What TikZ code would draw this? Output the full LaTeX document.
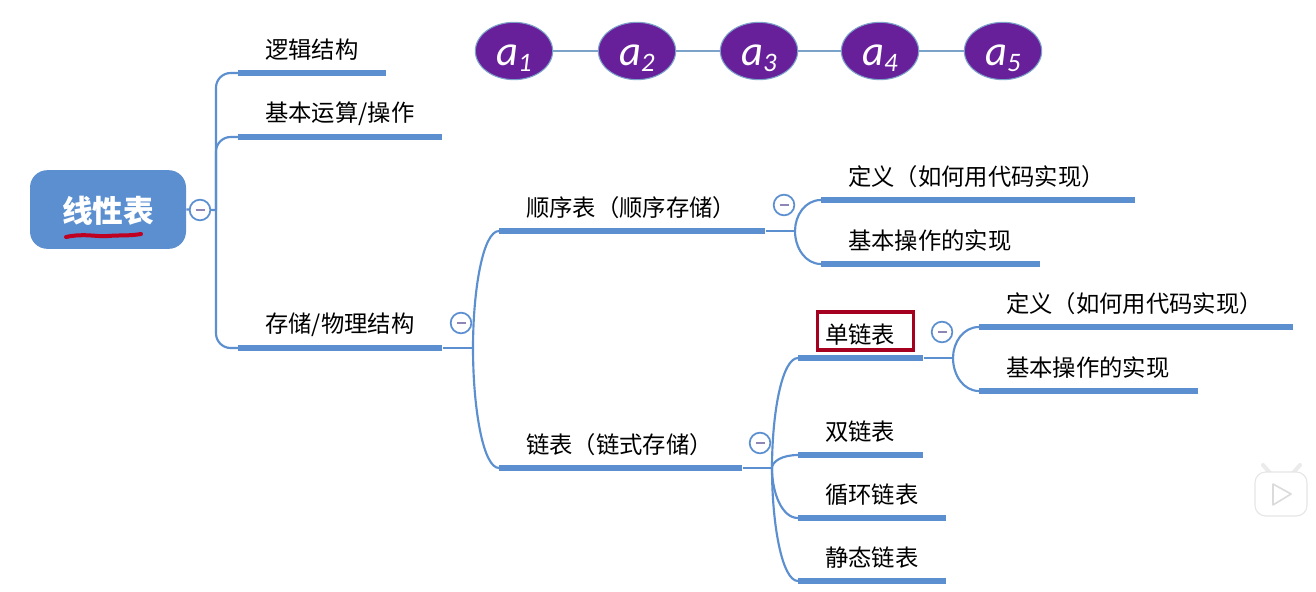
\documentclass[tikz,border=0pt]{standalone}
\usepackage{fontspec}
\setmainfont{Noto Sans CJK SC}
\newfontfamily\latinfont{Carlito}
\usetikzlibrary{shapes.geometric,calc}
\definecolor{mapblue}{HTML}{5B8FD0}
\definecolor{linkblue}{HTML}{7BA3C9}
\definecolor{elfill}{HTML}{68209A}
\definecolor{boxred}{HTML}{A5001F}
\definecolor{inkred}{HTML}{C00020}
\definecolor{minusgrey}{HTML}{8E86B4}
\tikzset{
  bar/.style={fill=mapblue,inner sep=0pt,minimum height=5pt,anchor=west},
  topictext/.style={anchor=west,inner sep=0pt,font=\fontsize{17.5}{17.5}\selectfont,text=black},
  conn/.style={draw=mapblue,line width=1.6pt},
  trunk/.style={conn,rounded corners=11pt},
  collapse/.style={circle,draw=mapblue,line width=1.3pt,fill=white,minimum size=15.5pt,inner sep=0pt},
  minus/.style={draw=minusgrey,line width=1.3pt},
  elem/.style={ellipse,draw=linkblue,line width=0.8pt,fill=elfill,minimum width=58pt,minimum height=43pt,inner sep=0pt,text=white},
  elemlink/.style={draw=linkblue,line width=1.5pt},
}
\newcommand{\topicbar}[5]{% name, x, y, width px, text
  \node[bar,minimum width=#4*0.75pt] (#1) at (#2,#3) {};
  \node[topictext] (#1t) at (#2+27,#3-23) {#5};
}
\newcommand{\branchline}[2]{% junction, bar
  \draw[conn] (#1) .. controls ($(#1)!0.5!(#1 |- #2.west)$) and ($(#2.west)+(-16,0)$) .. (#2.west);
}
\newcommand{\elemlabel}[1]{\raisebox{-10.5pt}[0pt][0pt]{\latinfont\itshape\fontsize{32}{32}\selectfont a\raisebox{-5pt}{\fontsize{20}{20}\selectfont #1}}}
\newcommand{\collapsemark}[3]{% name, x, y
  \node[collapse] (#1) at (#2,#3) {};
  \draw[minus] ($(#1)+(-4.5,0)$) -- ($(#1)+(4.5,0)$);
}
\begin{document}
\begin{tikzpicture}[x=0.75pt,y=-0.75pt]
\useasboundingbox (0,0) rectangle (1316,592);
\fill[white] (0,0) rectangle (1316,592);

\coordinate (j0) at (216,210);
\coordinate (j1) at (473,348);
\coordinate (j2) at (795,231);
\coordinate (j3) at (772,468);
\coordinate (j4) at (953,358);

% bars and text
\topicbar{logic}{238}{73}{148}{逻辑结构}
\topicbar{ops}{238}{137}{204}{基本运算/操作}
\topicbar{store}{238}{348}{204}{存储/物理结构}
\topicbar{seq}{499}{231}{266}{顺序表（顺序存储）}
\topicbar{link}{499}{468}{243}{链表（链式存储）}
\topicbar{seqdef}{821}{200}{314}{定义（如何用代码实现）}
\topicbar{seqop}{821}{264}{219}{基本操作的实现}
\topicbar{single}{798}{358}{125}{单链表}
\topicbar{double}{798}{455}{125}{双链表}
\topicbar{circ}{798}{518}{148}{循环链表}
\topicbar{stat}{798}{581}{148}{静态链表}
\topicbar{sdef}{979}{327}{314}{定义（如何用代码实现）}
\topicbar{sop}{979}{391}{219}{基本操作的实现}

% root
\node[fill=mapblue,rounded corners=13pt,minimum width=117pt,minimum height=59pt,inner sep=0pt] (root) at (108,209.5) {};
\node[inner sep=0pt,text=white,font=\fontsize{23}{23}\selectfont\bfseries] (roott) at (108,211) {线性表};
\draw[inkred,line width=3pt,line cap=round] (66,237) .. controls (85,233) and (95,237) .. (108,236) .. controls (120,235) and (130,236) .. (141,234);

% connectors
\draw[conn] (root.east) -- (j0);
\draw[trunk] (j0) |- (logic.west);
\draw[trunk] (j0) |- (ops.west);
\draw[trunk] (j0) |- (store.west);
\draw[conn] (store.east) -- (j1);
\branchline{j1}{seq}
\branchline{j1}{link}
\draw[conn] (seq.east) -- (j2);
\branchline{j2}{seqdef}
\branchline{j2}{seqop}
\draw[conn] (link.east) -- (j3);
\branchline{j3}{single}
\branchline{j3}{double}
\branchline{j3}{circ}
\branchline{j3}{stat}
\draw[conn] (single.east) -- (j4);
\branchline{j4}{sdef}
\branchline{j4}{sop}

% collapse marks
\collapsemark{c0}{200}{210}
\collapsemark{c1}{461}{323}
\collapsemark{c2}{784}{205}
\collapsemark{c3}{760}{443}
\collapsemark{c4}{942}{332}

% red highlight
\node[draw=boxred,line width=2.6pt,minimum width=72pt,minimum height=28.5pt,inner sep=0pt] (hl) at (865.5,331) {};

% element chain
\node[elem] (a1) at (514,51) {\elemlabel{1}};
\node[elem] (a2) at (637,51) {\elemlabel{2}};
\node[elem] (a3) at (759,51) {\elemlabel{3}};
\node[elem] (a4) at (880,51) {\elemlabel{4}};
\node[elem] (a5) at (1003,51) {\elemlabel{5}};
\draw[elemlink] (a1) -- (a2);
\draw[elemlink] (a2) -- (a3);
\draw[elemlink] (a3) -- (a4);
\draw[elemlink] (a4) -- (a5);

% player watermark
\draw[black!8,line width=3pt,line cap=round] (1270,473) -- (1263,465) (1293,473) -- (1300,465);
\node[fill=white,draw=black!10,line width=0.8pt,rounded corners=8pt,minimum width=39pt,minimum height=33pt,inner sep=0pt] (tv) at (1281,494) {};
\draw[black!14,line width=1.2pt,line join=round,fill=white] (1273,484) -- (1291,494) -- (1273,505) -- cycle;
\end{tikzpicture}
\end{document}
